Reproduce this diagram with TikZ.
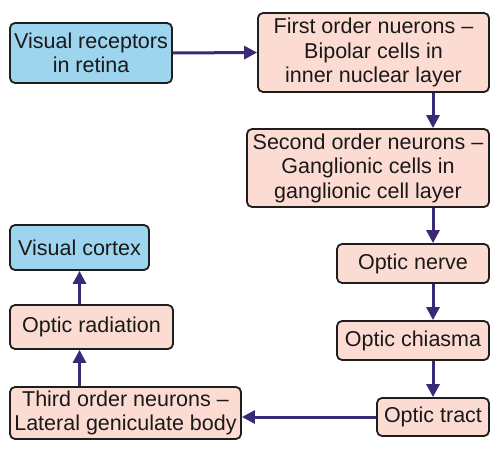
\documentclass[tikz,border=0pt]{standalone}
\usepackage{fontspec}
\setmainfont{Liberation Sans}
\usetikzlibrary{arrows.meta}
\definecolor{bluefill}{HTML}{9DD4EE}
\definecolor{pinkfill}{HTML}{FCDCD2}
\definecolor{arrowcol}{HTML}{3B2877}
\definecolor{edgecol}{HTML}{1E1E1E}
\tikzset{
  box/.style={draw=edgecol, line width=1.8pt, rounded corners=5pt, align=center,
    inner sep=0pt, font=\fontsize{21.5}{24.5}\selectfont, text=black!90},
  bluebox/.style={box, fill=bluefill},
  pinkbox/.style={box, fill=pinkfill},
  conn/.style={draw=arrowcol, line width=3pt, -{Triangle[length=13pt,width=13pt]}}
}
\begin{document}
\begin{tikzpicture}[x=1pt,y=-1pt]
\useasboundingbox (0,0) rectangle (500,462);
\node[bluebox, minimum width=162pt, minimum height=60pt] (A) at (91,53) {Visual receptors\\in retina};
\node[pinkbox, minimum width=231pt, minimum height=79pt] (B) at (373.5,52.5) {First order nuerons –\\Bipolar cells in\\inner nuclear layer};
\node[pinkbox, minimum width=242pt, minimum height=78pt] (C) at (368,168) {Second order neurons –\\Ganglionic cells in\\ganglionic cell layer};
\node[pinkbox, minimum width=152pt, minimum height=39pt] (D) at (413,263.5) {Optic nerve};
\node[pinkbox, minimum width=152pt, minimum height=39pt] (E) at (413,340.5) {Optic chiasma};
\node[pinkbox, minimum width=112pt, minimum height=38pt] (F) at (433,417) {Optic tract};
\node[pinkbox, minimum width=231pt, minimum height=52pt] (G) at (125.5,413) {Third order neurons –\\Lateral geniculate body};
\node[pinkbox, minimum width=163pt, minimum height=44pt] (H) at (91.5,327) {Optic radiation};
\node[bluebox, minimum width=139pt, minimum height=45pt] (I) at (79.5,247.5) {Visual cortex};
\draw[conn] (A.east) -- (B.west);
\draw[conn] (B.south -| F.center) -- (C.north -| F.center);
\draw[conn] (C.south -| F.center) -- (D.north -| F.center);
\draw[conn] (D.south -| F.center) -- (E.north -| F.center);
\draw[conn] (E.south -| F.center) -- (F.north);
\draw[conn] (F.west) -- (F.west -| G.east);
\draw[conn] (G.north -| I.center) -- (H.south -| I.center);
\draw[conn] (H.north -| I.center) -- (I.south);
\end{tikzpicture}
\end{document}
